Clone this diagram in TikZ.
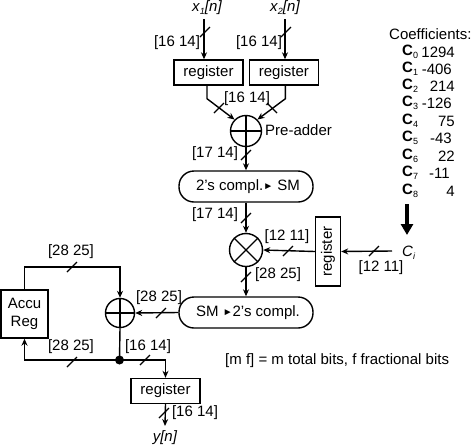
\documentclass[tikz,border=0pt]{standalone}
\usepackage{fontspec}
\setmainfont{Liberation Sans}
\usepackage{tikz}
\usetikzlibrary{arrows.meta,positioning,calc}
\newcommand{\lowsub}[1]{\raisebox{-3pt}{\fontsize{9}{9}\selectfont #1}}
\newcommand{\smalltri}{\raisebox{1pt}{\fontsize{10}{10}\selectfont ►}}
\tikzset{
  wire/.style={line width=1.4pt,-{Stealth[length=7pt,width=6pt]}},
  plainwire/.style={line width=1.4pt},
  tickmark/.style={line width=1.2pt},
  regbox/.style={draw,line width=1.4pt,minimum width=69pt,minimum height=25pt,inner sep=0pt},
  convbox/.style={draw,line width=1.4pt,rounded corners=15pt,minimum width=134pt,minimum height=31pt,inner sep=0pt},
  sumnode/.style={draw,circle,line width=1.4pt,minimum size=#1,inner sep=0pt},
  lbl/.style={inner sep=0pt}
}
\begin{document}
\begin{tikzpicture}[x=1pt,y=-1pt,font=\fontsize{15}{17}\selectfont]
\useasboundingbox (0,0) rectangle (474,445);
% registers and adders
\node[regbox] (regone) at (208.5,72.5) {register};
\node[regbox,right=5pt of regone] (regtwo) {register};
\node[sumnode=31pt] (preadd) at (246,131) {};
\node[convbox] (tosm) at (246,186.5) {\hspace{4pt}2’s compl.\smalltri{} SM};
\node[convbox] (totwos) at (246,312.5) {\hspace{4pt}SM \smalltri 2’s compl.};
\node[sumnode=33pt] (mult) at (246,250) {};
\node[regbox,rotate=90] (regcoef) at (328,251.5) {register};
\node[sumnode=29pt] (accadd) at (120,313) {};
\node[draw,line width=1.4pt,minimum width=47pt,minimum height=48pt,inner sep=0pt,align=center] (accu) at (24.5,314) {Accu\\[1pt]Reg};
\node[regbox] (regout) at (165.5,391) {register};
\node[circle,fill,inner sep=0pt,minimum size=9pt] (junc) at (119.5,360) {};
% inputs and outputs
\node[lbl] (xone) at (207,8) {\textit{x}\lowsub{\textit{1}}\textit{[n]}};
\node[lbl] (xtwo) at (285,8) {\textit{x}\lowsub{\textit{2}}\textit{[n]}};
\node[lbl,anchor=west] (coefin) at (402,253) {\textit{C}\lowsub{\textit{i}}};
\node[lbl] (yout) at (165,438) {\textit{y[n]}};
\node[lbl,anchor=west] (preaddtxt) at (265,130) {Pre-adder};
\node[lbl,anchor=west] (legend) at (225,361) {[m f] = m total bits, f fractional bits};
\coordinate (xonetop) at (204,19);
\coordinate (xtwotop) at (285,19);
\coordinate (coefend) at (392,251);
\coordinate (yend) at (165,426);
\coordinate (fbtop) at (120,267);
\coordinate (arrowtop) at (407,204);
\coordinate (arrowend) at (407,235);
% bus widths
\foreach \x/\y/\t [count=\i] in {177/43/{[16 14]},259/43/{[16 14]},247/99/{[16 14]},215/154/{[17 14]},215/215/{[17 14]},287/237/{[12 11]},278/275/{[28 25]},381/268/{[12 11]},71/252/{[28 25]},159/298/{[28 25]},71/347/{[28 25]},148/347/{[16 14]},195/413/{[16 14]}}
  \node[lbl] (width\i) at (\x,\y) {\t};
% coefficient table
\node[lbl,anchor=west] (coefhead) at (389,34) {Coefficients:};
\foreach \y/\n/\v/\r in {52/0/1294/455,69/1/-406/452,86/2/214/455,103/3/-126/452,121/4/75/455,138/5/-43/452,156/6/22/455,173/7/-11/450,191/8/4/455}{
  \node[lbl,anchor=west] (cname\n) at (402,\y) {\textbf{C}\lowsub{\n}};
  \node[lbl,anchor=east] (cval\n) at (\r,\y) {\v};
}
\draw[line width=3.6pt,-{Triangle[length=11pt,width=12pt]}] (arrowtop)--(arrowend);
% connectors
\draw[wire] (xonetop)--(xonetop|-regone.north);
\draw[wire] (xtwotop)--(xtwotop|-regtwo.north);
\draw[wire] (regone.south)++(-1.5,0)--++(0,13)--(preadd.135);
\draw[wire] (regtwo.south)++(1.5,0)--++(0,13)--(preadd.45);
\draw[plainwire] (preadd.north)--(preadd.south);
\draw[plainwire] (preadd.west)--(preadd.east);
\draw[wire] (preadd.south)--(tosm.north);
\draw[wire] (tosm.south)--(mult.north);
\draw[plainwire] (mult.north west)--(mult.south east);
\draw[plainwire] (mult.north east)--(mult.south west);
\draw[wire] (coefend)--(regcoef.south);
\draw[wire] (regcoef.north)--(mult.east);
\draw[wire] (mult.south)--(totwos.north);
\draw[wire] (totwos.west)--(accadd.east);
\draw[plainwire] (accadd.north)--(accadd.south);
\draw[plainwire] (accadd.west)--(accadd.east);
\draw[wire] (accu.north)|-(fbtop)--(accadd.north);
\draw[plainwire] (accadd.south)--(junc.center);
\draw[wire] (junc.center)-|(accu.south);
\draw[wire] (junc.center)-|(regout.north);
\draw[wire] (regout.south)--(yend);
% slashes on the buses
\foreach \x/\y/\d in {205/32/1,286/32/1,219/108/1,272/108/-1,246/155/1,246/218/1,246/277/1,288/251/1,374/251/1,161/313/1,72/267/1,72/362/1,145/360/1,164/413/1}
  \draw[tickmark] (\x,\y)+(-5*\d,5)--+(5*\d,-5);
\end{tikzpicture}
\end{document}
